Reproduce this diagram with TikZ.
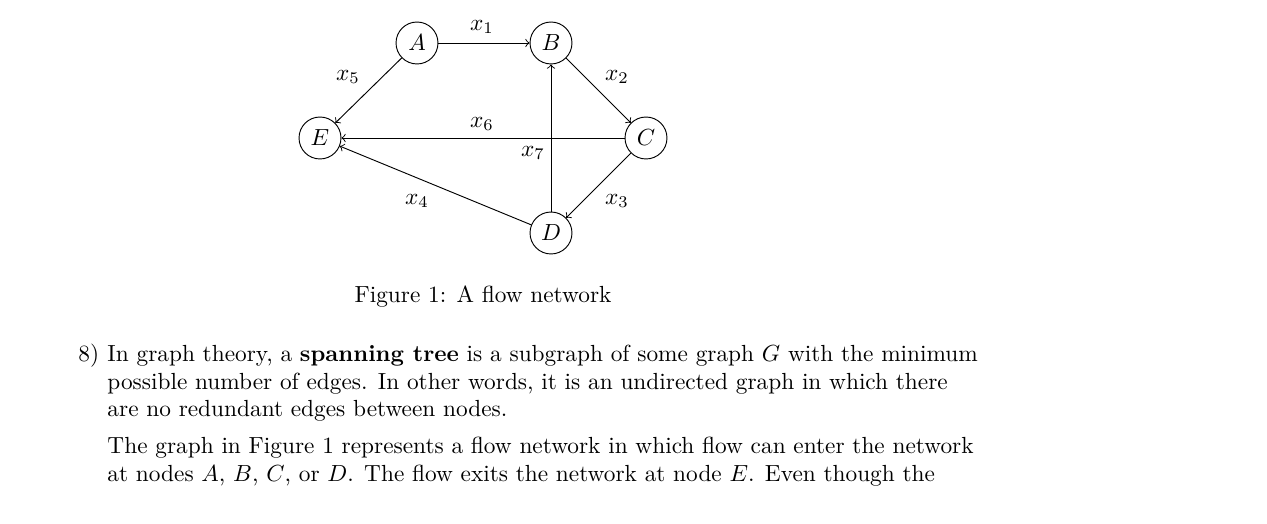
\documentclass[tikz,border=0pt]{standalone}
\begin{document}
\begin{tikzpicture}[x=0.01508cm,y=-0.01508cm,
 v/.style={circle,draw,minimum size=18pt,inner sep=0pt},
 e/.style={draw,-to,line width=0.4pt},
 t/.style={anchor=base west,inner sep=0pt}]
\useasboundingbox (0,0) rectangle (1267,524);
\node[v] (A) at (417,43) {$A$};
\node[v] (B) at (551,43) {$B$};
\node[v] (C) at (646,138) {$C$};
\node[v] (E) at (320,138) {$E$};
\node[v] (D) at (551,233) {$D$};
\draw[e] (A) -- (B);
\draw[e] (B) -- (C);
\draw[e] (C) -- (E);
\draw[e] (C) -- (D);
\draw[e] (D) -- (B);
\draw[e] (D) -- (E);
\draw[e] (A) -- (E);
\node (l1) at (482,27) {$x_1$};
\node (l2) at (617,77) {$x_2$};
\node (l3) at (617,201) {$x_3$};
\node (l4) at (417,201) {$x_4$};
\node (l5) at (348,77) {$x_5$};
\node (l6) at (482,124) {$x_6$};
\node (l7) at (533,153) {$x_7$};
\node (cap) at (483,297) {Figure 1: A flow network};
\node[t] (n8) at (78,362) {8)};
\node[t] (p1) at (107,362) {In graph theory, a \textbf{spanning tree} is a subgraph of some graph $G$ with the minimum};
\node[t] (p2) at (107,390) {possible number of edges. In other words, it is an undirected graph in which there};
\node[t] (p3) at (107,417) {are no redundant edges between nodes.};
\node[t] (p4) at (107,454) {The graph in Figure 1 represents a flow network in which flow can enter the network};
\node[t] (p5) at (107,482) {at nodes $A$, $B$, $C$, or $D$. The flow exits the network at node $E$. Even though the};
\end{tikzpicture}
\end{document}
